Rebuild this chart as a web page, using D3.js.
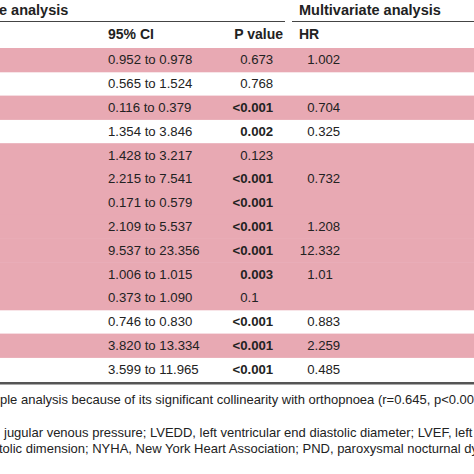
<!DOCTYPE html>
<html lang="en">
<head>
    <meta charset="UTF-8">
    <title>Table</title>
    <style>
        body { margin: 0; background: #fff; }
        svg { display: block; font-family: "Liberation Sans", Arial, sans-serif; }
    </style>
    <script src="https://d3js.org/d3.v7.min.js"></script>
</head>
<body>
    <svg width="474" height="474"></svg>
    <script>
        const ciValues = ['0.952 to 0.978', '0.565 to 1.524', '0.116 to 0.379', '1.354 to 3.846',
            '1.428 to 3.217', '2.215 to 7.541', '0.171 to 0.579', '2.109 to 5.537', '9.537 to 23.356',
            '1.006 to 1.015', '0.373 to 1.090', '0.746 to 0.830', '3.820 to 13.334', '3.599 to 11.965'];
        const pValues = ['0.673', '0.768', '<0.001', '0.002', '0.123', '<0.001', '<0.001', '<0.001',
            '<0.001', '0.003', '0.1', '<0.001', '<0.001', '<0.001'];
        const pBold = [false, false, true, true, false, true, true, true, true, true, false, true, true, true];
        const hrValues = ['1.002', '', '0.704', '0.325', '', '0.732', '', '1.208', '12.332', '1.01', '',
            '0.883', '2.259', '0.485'];
        const shaded = [true, false, true, false, true, true, true, true, true, true, true, false, true, false];
        const footnotes = [
            'ple analysis because of its significant collinearity with orthopnoea (r=0.645, p<0.001).',
            'jugular venous pressure; LVEDD, left ventricular end diastolic diameter; LVEF, left ventricular',
            'tolic dimension; NYHA, New York Heart Association; PND, paroxysmal nocturnal dyspnoea.'
        ];

        const svg = d3.select("svg");
        const ink = "#222";

        const y = d3.scaleBand()
            .domain(d3.range(ciValues.length))
            .range([48, 48 + 23.8 * ciValues.length]);

        // row shading
        svg.append("g").selectAll("rect")
            .data(d3.range(ciValues.length).filter(i => shaded[i]))
            .enter().append("rect")
            .attr("x", 0).attr("width", 474)
            .attr("y", d => y(d))
            .attr("height", y.bandwidth() + 0.5)
            .attr("fill", "#e8a9b3");

        // headers
        svg.append("text").attr("x", -1).attr("y", 15).attr("font-size", 14.5)
            .attr("font-weight", "bold").attr("fill", ink).text("e analysis");
        svg.append("text").attr("x", 299).attr("y", 15).attr("font-size", 14.5)
            .attr("font-weight", "bold").attr("fill", ink).text("Multivariate analysis");
        svg.append("line").attr("x1", 0).attr("x2", 285).attr("y1", 21.5).attr("y2", 21.5)
            .attr("stroke", "#444").attr("stroke-width", 1);
        svg.append("line").attr("x1", 292).attr("x2", 474).attr("y1", 21.5).attr("y2", 21.5)
            .attr("stroke", "#444").attr("stroke-width", 1);

        const colHead = svg.append("g").attr("font-size", 14).attr("font-weight", "bold").attr("fill", ink);
        colHead.append("text").attr("x", 108).attr("y", 39).text("95% CI");
        colHead.append("text").attr("x", 283).attr("y", 39).attr("text-anchor", "end").text("P value");
        colHead.append("text").attr("x", 299).attr("y", 39).text("HR");

        const body = svg.append("g").attr("font-size", 13.2).attr("fill", ink);
        const rowY = i => y(i) + y.bandwidth() / 2 + 4.5;

        body.selectAll(".ci").data(ciValues).enter().append("text")
            .attr("class", "ci").attr("x", 108).attr("y", (d, i) => rowY(i)).text(d => d);

        // decimal-aligned columns
        function decimalColumn(values, dotX, bold) {
            const g = body.append("g");
            values.forEach((v, i) => {
                if (!v) return;
                const k = v.indexOf(".");
                const w = bold && bold[i] ? "bold" : null;
                g.append("text").attr("x", dotX).attr("y", rowY(i)).attr("text-anchor", "end")
                    .attr("font-weight", w).text(v.slice(0, k));
                g.append("text").attr("x", dotX).attr("y", rowY(i))
                    .attr("font-weight", w).text(v.slice(k));
            });
        }
        decimalColumn(pValues, 247.5, pBold);
        decimalColumn(hrValues, 314.5, null);

        const bottom = y.range()[1] + 2;
        svg.append("line").attr("x1", 0).attr("x2", 474).attr("y1", bottom).attr("y2", bottom)
            .attr("stroke", "#555").attr("stroke-width", 2.5);

        const foot = svg.append("g").attr("font-size", 13).attr("fill", ink);
        foot.append("text").attr("x", 0).attr("y", 404).text(footnotes[0]);
        foot.append("text").attr("x", 4).attr("y", 437).text(footnotes[1]);
        foot.append("text").attr("x", -1).attr("y", 453).text(footnotes[2]);
    </script>
</body>
</html>
